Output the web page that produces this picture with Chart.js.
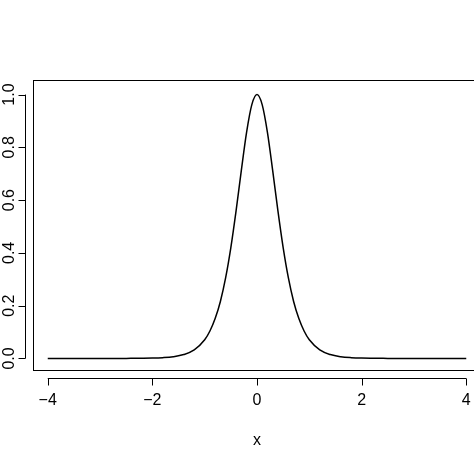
<!DOCTYPE html>
<html><head><script src="https://cdn.jsdelivr.net/npm/chart.js@4"></script>
<style>html,body{margin:0;overflow:hidden;background:#fff}#w{width:484px;height:474px}</style></head>
<body><div id="w"><canvas id="c"></canvas></div>
<script>
const xs=[-4,-3,-2.5,-2,-1.8,-1.6,-1.4,-1.2,-1,-0.9,-0.8,-0.7,-0.6,-0.5,-0.4,-0.3,-0.2,-0.1,0,0.1,0.2,0.3,0.4,0.5,0.6,0.7,0.8,0.9,1,1.2,1.4,1.6,1.8,2,2.5,3,4];
const ys=[0,0,0.0002,0.0013,0.003,0.0066,0.0147,0.0324,0.0707,0.104,0.151,0.216,0.305,0.420,0.559,0.712,0.856,0.961,1,0.961,0.856,0.712,0.559,0.420,0.305,0.216,0.151,0.104,0.0707,0.0324,0.0147,0.0066,0.003,0.0013,0.0002,0,0];
const xTicks=[-4,-2,0,2,4];
const yTicks=[0,0.2,0.4,0.6,0.8,1];
const yLabels=["0.0","0.2","0.4","0.6","0.8","1.0"];
const F='16px "Liberation Sans", Arial, sans-serif';
const axes={id:'ax',afterDraw(ch){const c=ch.ctx,a=ch.chartArea,X=ch.scales.x,Y=ch.scales.y;c.save();c.strokeStyle='#000';c.fillStyle='#000';c.lineWidth=1;
c.strokeRect(33.5,80.5,a.right-33,370-80);
const by=378.5,x0=X.getPixelForValue(-4),x1=X.getPixelForValue(4);
c.beginPath();c.moveTo(x0,by);c.lineTo(x1,by);xTicks.forEach(v=>{const p=Math.round(X.getPixelForValue(v))+.5;c.moveTo(p,by);c.lineTo(p,by+7);});c.stroke();
c.font=F;c.textAlign='center';c.textBaseline='middle';xTicks.forEach(v=>c.fillText(v<0?'\u2212'+(-v):String(v),X.getPixelForValue(v),401));
c.fillText('x',257,441);
const bx=25.5,ya=Y.getPixelForValue(0),yb=Y.getPixelForValue(1);
c.beginPath();c.moveTo(bx,ya);c.lineTo(bx,yb);yTicks.forEach(v=>{const p=Math.round(Y.getPixelForValue(v))+.5;c.moveTo(bx,p);c.lineTo(bx-7,p);});c.stroke();
yTicks.forEach((v,i)=>{c.save();c.translate(10,Y.getPixelForValue(v));c.rotate(-Math.PI/2);c.fillText(yLabels[i],0,0);c.restore();});
c.restore();}};
new Chart(document.getElementById('c'),{type:'scatter',data:{datasets:[{data:xs.map((x,i)=>({x,y:ys[i]})),showLine:true,borderColor:'#000',borderWidth:1.5,pointRadius:0,tension:0.4,cubicInterpolationMode:'monotone'}]},
options:{responsive:true,maintainAspectRatio:false,animation:false,layout:{padding:{left:31,top:84,right:1,bottom:105}},
plugins:{legend:{display:false},tooltip:{enabled:false}},
scales:{x:{type:'linear',display:false,min:-4.32,max:4.32},y:{display:false,min:-0.04,max:1.04}}},plugins:[axes]});
</script></body></html>
